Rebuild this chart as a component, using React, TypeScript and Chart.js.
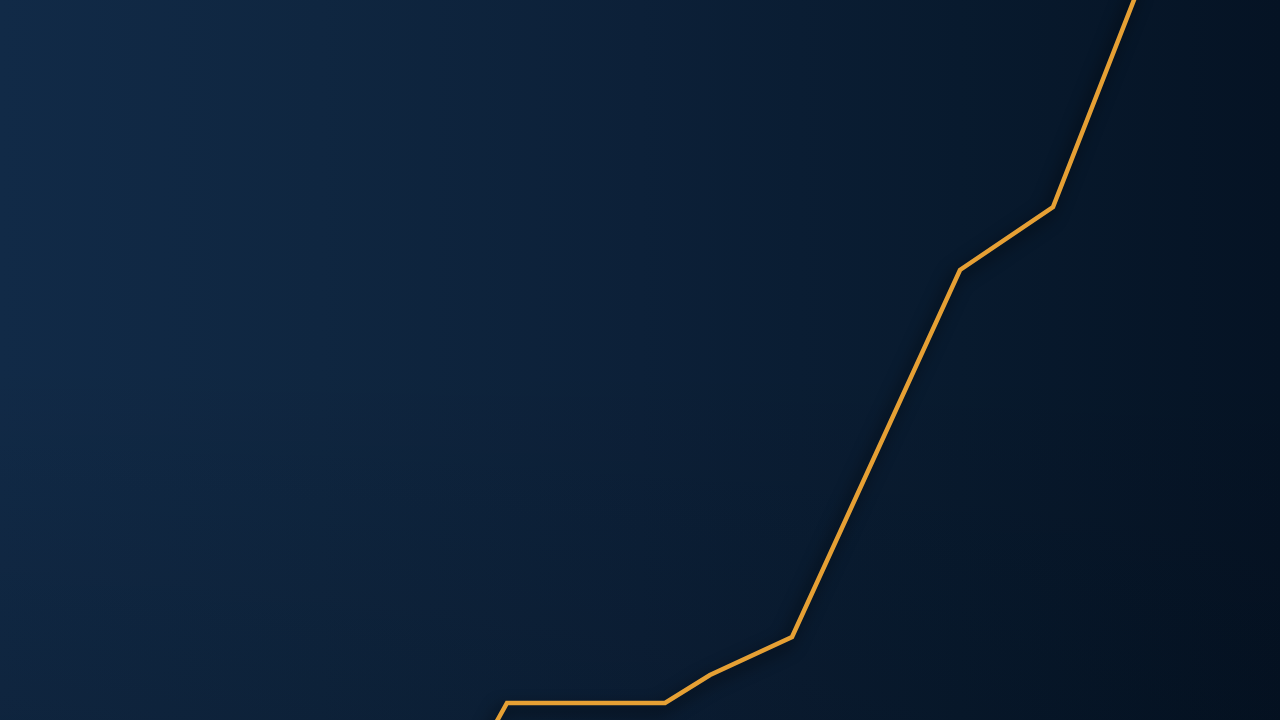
import React, { useEffect, useRef } from "react";
import { Chart, registerables } from "chart.js";

Chart.register(...registerables);

// Data (x in horizontal units, y in vertical units, increasing upward)
const xValues = [492, 507, 665, 710, 792, 960, 1053, 1141];
const yValues = [-10, 17, 17, 45, 83, 450, 513, 738];
const xRange = [0, 1280];
const yRange = [0, 720];

const lineColor = "#e6a034";

const shadowPlugin = {
  id: "lineShadow",
  beforeDatasetsDraw(chart: any) {
    const ctx = chart.ctx;
    ctx.save();
    ctx.shadowColor = "rgba(0,0,0,0.85)";
    ctx.shadowBlur = 16;
    ctx.shadowOffsetX = -5;
    ctx.shadowOffsetY = 7;
  },
  afterDatasetsDraw(chart: any) {
    chart.ctx.restore();
  },
};

export default function App() {
  const ref = useRef<HTMLCanvasElement | null>(null);
  useEffect(() => {
    if (!ref.current) return;
    const chart = new Chart(ref.current, {
      type: "line",
      data: {
        datasets: [
          {
            data: xValues.map((x, i) => ({ x, y: yValues[i] })),
            borderColor: lineColor,
            borderWidth: 4.5,
            pointRadius: 0,
            tension: 0,
            fill: false,
            borderJoinStyle: "miter",
          },
        ],
      },
      options: {
        animation: false,
        responsive: false,
        maintainAspectRatio: false,
        layout: { padding: 0 },
        plugins: { legend: { display: false }, tooltip: { enabled: false } },
        scales: {
          x: { type: "linear", min: xRange[0], max: xRange[1], display: false },
          y: { type: "linear", min: yRange[0], max: yRange[1], display: false },
        },
      },
      plugins: [shadowPlugin],
    });
    return () => chart.destroy();
  }, []);

  return (
    <div
      style={{
        position: "fixed",
        left: 0,
        top: 0,
        width: 1280,
        height: 720,
        overflow: "hidden",
        background:
          "linear-gradient(to bottom, rgba(0,0,0,0) 50%, rgba(0,5,12,0.15) 100%), linear-gradient(to right, #112a47 0%, #0f2640 25%, #0c2038 50%, #081a2e 75%, #051324 100%)",
      }}
    >
      <canvas ref={ref} width={1280} height={720} style={{ display: "block" }} />
    </div>
  );
}
